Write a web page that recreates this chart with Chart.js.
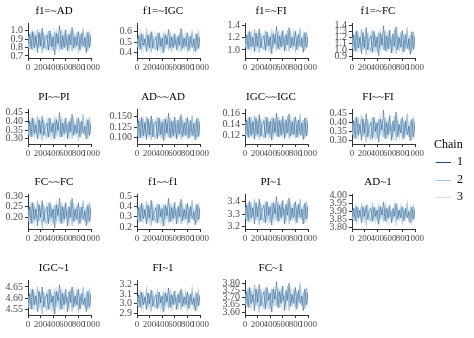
<!DOCTYPE html>
<html>
<head>
<meta charset="utf-8">
<script src="https://cdn.jsdelivr.net/npm/chart.js@4/dist/chart.umd.min.js"></script>
<style>
 body { margin: 0; background: #fff; }
 #wrap { position: relative; width: 474px; height: 338px; font-family: "Liberation Serif", "DejaVu Serif", serif; }
 canvas { position: absolute; }
 .legTitle { position: absolute; left: 434px; top: 137px; font-size: 12px; color: #000; }
 .legKey { position: absolute; left: 436px; width: 15px; height: 0; border-top: 1px solid; }
 .legLab { position: absolute; left: 457px; font-size: 12px; color: #000; }
</style>
</head>
<body>
<div id="wrap"></div>
<script>
// iteration numbers shown on every x axis (thinned draws)
const iterations = [0,25,50,75,100,125,150,175,200,225,250,275,300,325,350,375,400,425,450,475,500,
 525,550,575,600,625,650,675,700,725,750,775,800,825,850,875,900,925,950,975,1000];
const xTicks = ['0', '200', '400', '600', '800', '1000'];
const chainLabels = ['1', '2', '3'];

// ---- f1=~AD
const f1AD = [
 [0.83,0.96,0.78,0.99,0.80,0.94,0.74,0.98,0.82,1.03,0.79,0.92,0.95,0.77,1.00,0.81,0.93,0.71,0.97,0.85,1.06,0.78,0.94,0.80,1.01,0.76,0.96,0.83,1.04,0.79,0.93,0.82,0.99,0.77,0.97,0.81,0.92,0.74,0.98,0.80,0.95],
 [0.94,0.81,0.99,0.77,0.96,0.83,1.02,0.79,0.95,0.73,0.98,0.82,0.78,1.00,0.80,0.93,0.76,0.99,0.81,0.95,0.79,1.01,0.77,0.97,0.82,0.92,0.79,1.00,0.75,0.96,0.80,0.98,0.78,0.94,0.83,1.03,0.79,0.96,0.76,0.99,0.82],
 [0.79,0.95,0.83,0.98,0.76,0.92,0.81,1.00,0.78,0.96,0.84,0.77,0.99,0.80,0.94,0.75,0.97,0.82,1.02,0.79,0.91,0.81,0.98,0.78,0.95,0.85,0.77,0.97,0.80,1.00,0.82,0.94,0.73,0.96,0.79,0.99,0.83,0.92,0.80,0.97,0.78]];
const f1ADTicks = ['0.7', '0.8', '0.9', '1.0'];
const f1ADRange = [0.675, 1.09];

// ---- f1=~IGC
const f1IGC = [
 [0.46,0.56,0.43,0.58,0.47,0.53,0.41,0.57,0.45,0.60,0.44,0.52,0.55,0.42,0.59,0.46,0.54,0.40,0.57,0.48,0.62,0.44,0.55,0.45,0.58,0.43,0.56,0.47,0.63,0.44,0.54,0.46,0.59,0.42,0.56,0.45,0.53,0.41,0.58,0.44,0.55],
 [0.54,0.46,0.58,0.43,0.56,0.47,0.60,0.44,0.55,0.40,0.57,0.46,0.43,0.59,0.45,0.54,0.42,0.57,0.46,0.55,0.44,0.58,0.43,0.56,0.47,0.53,0.44,0.59,0.41,0.56,0.45,0.57,0.43,0.54,0.47,0.61,0.44,0.56,0.42,0.58,0.46],
 [0.45,0.55,0.47,0.57,0.42,0.53,0.46,0.59,0.44,0.56,0.48,0.43,0.58,0.45,0.54,0.41,0.57,0.46,0.60,0.44,0.52,0.46,0.57,0.43,0.55,0.48,0.42,0.56,0.45,0.59,0.46,0.54,0.40,0.56,0.44,0.58,0.47,0.53,0.45,0.57,0.43]];
const f1IGCTicks = ['0.4', '0.5', '0.6'];
const f1IGCRange = [0.35, 0.68];

// ---- f1=~FI
const f1FI = [
 [1.08,1.24,1.01,1.30,1.05,1.20,0.97,1.27,1.06,1.34,1.03,1.18,1.23,0.99,1.29,1.07,1.21,0.94,1.26,1.10,1.38,1.02,1.22,1.05,1.31,0.98,1.25,1.08,1.36,1.03,1.20,1.06,1.30,1.00,1.25,1.05,1.19,0.96,1.28,1.04,1.22],
 [1.21,1.05,1.29,1.00,1.24,1.08,1.33,1.03,1.22,0.95,1.27,1.06,1.01,1.31,1.04,1.20,0.99,1.28,1.06,1.23,1.03,1.30,1.00,1.26,1.07,1.19,1.03,1.32,0.97,1.25,1.05,1.28,1.01,1.21,1.08,1.35,1.03,1.24,0.99,1.29,1.06],
 [1.04,1.22,1.07,1.28,0.99,1.19,1.05,1.31,1.02,1.25,1.09,1.00,1.29,1.04,1.21,0.97,1.27,1.06,1.33,1.03,1.18,1.05,1.27,1.01,1.23,1.09,1.00,1.26,1.04,1.31,1.06,1.20,0.95,1.24,1.03,1.30,1.07,1.19,1.04,1.27,1.02]];
const f1FITicks = ['1.0', '1.2', '1.4'];
const f1FIRange = [0.87, 1.43];

// ---- f1=~FC
const f1FC = [
 [1.05,1.24,0.98,1.31,1.03,1.20,0.94,1.28,1.04,1.36,1.00,1.17,1.23,0.96,1.30,1.05,1.21,0.91,1.27,1.08,1.39,0.99,1.22,1.02,1.32,0.95,1.26,1.06,1.37,1.00,1.20,1.04,1.31,0.97,1.25,1.02,1.18,0.93,1.29,1.01,1.22],
 [1.21,1.03,1.29,0.97,1.24,1.06,1.34,1.00,1.22,0.92,1.28,1.04,0.98,1.32,1.02,1.20,0.96,1.29,1.04,1.23,1.00,1.31,0.97,1.26,1.05,1.18,1.00,1.33,0.94,1.25,1.03,1.29,0.98,1.21,1.06,1.36,1.00,1.24,0.96,1.30,1.04],
 [1.02,1.22,1.05,1.29,0.96,1.18,1.03,1.32,0.99,1.25,1.07,0.97,1.30,1.02,1.21,0.94,1.27,1.04,1.34,1.00,1.17,1.03,1.28,0.98,1.23,1.07,0.97,1.26,1.02,1.32,1.04,1.20,0.92,1.24,1.00,1.31,1.05,1.18,1.02,1.27,0.99]];
const f1FCTicks = ['0.9', '1.0', '1.1', '1.2', '1.3', '1.4'];
const f1FCRange = [0.87, 1.43];

// ---- PI~~PI
const piPI = [
 [0.33,0.40,0.31,0.42,0.33,0.38,0.30,0.41,0.33,0.43,0.32,0.37,0.39,0.31,0.42,0.34,0.39,0.30,0.41,0.35,0.45,0.31,0.39,0.33,0.42,0.30,0.40,0.34,0.44,0.32,0.38,0.33,0.42,0.31,0.40,0.33,0.37,0.30,0.41,0.32,0.39],
 [0.39,0.33,0.42,0.31,0.40,0.34,0.43,0.32,0.39,0.29,0.41,0.33,0.31,0.42,0.32,0.38,0.31,0.41,0.33,0.39,0.32,0.42,0.31,0.40,0.34,0.38,0.32,0.42,0.30,0.40,0.33,0.41,0.31,0.39,0.34,0.44,0.32,0.40,0.30,0.42,0.33],
 [0.32,0.39,0.34,0.41,0.31,0.38,0.33,0.42,0.32,0.40,0.35,0.31,0.42,0.33,0.39,0.30,0.41,0.33,0.43,0.32,0.37,0.33,0.41,0.31,0.39,0.35,0.31,0.40,0.33,0.42,0.34,0.38,0.30,0.40,0.32,0.42,0.34,0.38,0.33,0.41,0.31]];
const piPITicks = ['0.30', '0.35', '0.40', '0.45'];
const piPIRange = [0.27, 0.47];

// ---- AD~~AD
const adAD = [
 [0.105,0.140,0.098,0.148,0.104,0.136,0.095,0.145,0.106,0.152,0.101,0.133,0.139,0.097,0.147,0.107,0.137,0.092,0.144,0.110,0.158,0.099,0.139,0.104,0.149,0.096,0.142,0.108,0.155,0.101,0.136,0.105,0.148,0.098,0.141,0.104,0.134,0.094,0.146,0.102,0.139],
 [0.137,0.104,0.146,0.099,0.140,0.108,0.151,0.101,0.138,0.093,0.144,0.106,0.099,0.149,0.103,0.136,0.097,0.145,0.105,0.139,0.101,0.148,0.098,0.142,0.107,0.134,0.101,0.150,0.095,0.141,0.104,0.146,0.099,0.137,0.108,0.153,0.101,0.140,0.097,0.147,0.105],
 [0.103,0.138,0.107,0.145,0.097,0.134,0.104,0.149,0.100,0.141,0.109,0.098,0.147,0.103,0.137,0.095,0.144,0.106,0.151,0.101,0.133,0.105,0.145,0.099,0.139,0.109,0.098,0.142,0.103,0.149,0.106,0.136,0.093,0.140,0.101,0.148,0.107,0.134,0.103,0.144,0.100]];
const adADTicks = ['0.100', '0.125', '0.150'];
const adADRange = [0.084, 0.168];

// ---- IGC~~IGC
const igcIGC = [
 [0.121,0.148,0.116,0.154,0.120,0.145,0.113,0.152,0.122,0.158,0.118,0.142,0.147,0.115,0.153,0.123,0.146,0.111,0.151,0.125,0.161,0.117,0.147,0.120,0.155,0.114,0.149,0.124,0.159,0.118,0.145,0.121,0.154,0.116,0.148,0.120,0.143,0.112,0.152,0.119,0.147],
 [0.146,0.120,0.153,0.116,0.148,0.123,0.157,0.118,0.146,0.112,0.151,0.122,0.116,0.155,0.120,0.145,0.115,0.152,0.121,0.147,0.118,0.154,0.116,0.149,0.123,0.143,0.118,0.156,0.113,0.148,0.120,0.152,0.116,0.146,0.123,0.159,0.118,0.148,0.115,0.153,0.121],
 [0.119,0.147,0.122,0.152,0.115,0.143,0.120,0.155,0.117,0.149,0.124,0.116,0.153,0.119,0.146,0.113,0.151,0.122,0.157,0.118,0.142,0.121,0.152,0.117,0.147,0.124,0.116,0.150,0.119,0.155,0.122,0.145,0.112,0.148,0.118,0.154,0.122,0.143,0.119,0.151,0.117]];
const igcIGCTicks = ['0.12', '0.14', '0.16'];
const igcIGCRange = [0.104, 0.168];

// ---- FI~~FI
const fiFI = [
 [0.34,0.41,0.31,0.43,0.33,0.39,0.30,0.42,0.34,0.45,0.32,0.38,0.40,0.31,0.43,0.35,0.40,0.29,0.42,0.36,0.47,0.31,0.40,0.33,0.44,0.30,0.41,0.35,0.46,0.32,0.39,0.34,0.43,0.31,0.41,0.33,0.38,0.30,0.42,0.32,0.40],
 [0.40,0.33,0.43,0.31,0.41,0.35,0.44,0.32,0.40,0.29,0.42,0.34,0.31,0.43,0.33,0.39,0.31,0.42,0.34,0.40,0.32,0.43,0.31,0.41,0.35,0.38,0.32,0.44,0.30,0.41,0.33,0.42,0.31,0.40,0.35,0.45,0.32,0.41,0.30,0.43,0.34],
 [0.33,0.40,0.35,0.42,0.31,0.39,0.34,0.44,0.32,0.41,0.36,0.31,0.43,0.33,0.40,0.30,0.42,0.34,0.45,0.32,0.38,0.34,0.42,0.31,0.40,0.36,0.31,0.41,0.33,0.44,0.35,0.39,0.30,0.41,0.32,0.43,0.35,0.38,0.33,0.42,0.31]];
const fiFITicks = ['0.30', '0.35', '0.40', '0.45'];
const fiFIRange = [0.28, 0.475];

// ---- FC~~FC
const fcFC = [
 [0.19,0.25,0.17,0.27,0.19,0.24,0.16,0.26,0.20,0.28,0.18,0.23,0.25,0.17,0.27,0.20,0.24,0.15,0.26,0.21,0.29,0.17,0.25,0.19,0.27,0.16,0.25,0.20,0.29,0.18,0.24,0.19,0.27,0.17,0.25,0.19,0.23,0.16,0.26,0.18,0.25],
 [0.24,0.19,0.27,0.17,0.25,0.20,0.28,0.18,0.24,0.15,0.26,0.19,0.17,0.27,0.19,0.24,0.17,0.26,0.19,0.25,0.18,0.27,0.17,0.25,0.20,0.23,0.18,0.28,0.16,0.25,0.19,0.26,0.17,0.24,0.20,0.28,0.18,0.25,0.17,0.27,0.19],
 [0.18,0.24,0.20,0.26,0.17,0.23,0.19,0.27,0.18,0.25,0.21,0.17,0.27,0.19,0.24,0.16,0.26,0.19,0.28,0.18,0.23,0.19,0.26,0.17,0.25,0.21,0.17,0.25,0.19,0.27,0.20,0.24,0.16,0.25,0.18,0.27,0.20,0.23,0.19,0.26,0.17]];
const fcFCTicks = ['0.20', '0.25', '0.30'];
const fcFCRange = [0.145, 0.31];

// ---- f1~~f1
const f1f1 = [
 [0.28,0.39,0.25,0.43,0.28,0.37,0.23,0.41,0.29,0.46,0.26,0.35,0.39,0.24,0.42,0.30,0.38,0.21,0.41,0.31,0.48,0.25,0.39,0.28,0.44,0.23,0.40,0.30,0.47,0.26,0.37,0.28,0.43,0.24,0.40,0.28,0.35,0.22,0.42,0.27,0.39],
 [0.38,0.28,0.42,0.25,0.39,0.30,0.45,0.26,0.38,0.21,0.41,0.29,0.25,0.43,0.27,0.37,0.24,0.42,0.28,0.39,0.26,0.43,0.25,0.40,0.30,0.36,0.26,0.44,0.23,0.39,0.28,0.42,0.25,0.38,0.30,0.46,0.26,0.39,0.24,0.43,0.28],
 [0.27,0.38,0.30,0.41,0.24,0.36,0.28,0.43,0.26,0.39,0.31,0.25,0.42,0.27,0.38,0.22,0.41,0.29,0.44,0.26,0.35,0.28,0.41,0.25,0.38,0.31,0.25,0.40,0.27,0.43,0.29,0.37,0.22,0.39,0.26,0.42,0.30,0.36,0.27,0.41,0.25]];
const f1f1Ticks = ['0.2', '0.3', '0.4', '0.5'];
const f1f1Range = [0.18, 0.52];

// ---- PI~1
const pi1 = [
 [3.27,3.37,3.24,3.40,3.27,3.35,3.22,3.39,3.28,3.42,3.25,3.34,3.37,3.23,3.40,3.29,3.36,3.21,3.39,3.30,3.44,3.24,3.37,3.27,3.41,3.22,3.38,3.29,3.43,3.25,3.35,3.27,3.40,3.23,3.38,3.27,3.34,3.22,3.39,3.26,3.37],
 [3.36,3.27,3.40,3.24,3.37,3.29,3.42,3.25,3.36,3.21,3.39,3.28,3.24,3.40,3.26,3.35,3.23,3.39,3.27,3.37,3.25,3.40,3.24,3.38,3.29,3.34,3.25,3.41,3.22,3.37,3.27,3.39,3.24,3.36,3.29,3.42,3.25,3.37,3.23,3.40,3.27],
 [3.26,3.36,3.28,3.39,3.23,3.34,3.27,3.40,3.25,3.37,3.30,3.24,3.39,3.26,3.36,3.22,3.38,3.28,3.41,3.25,3.34,3.27,3.39,3.24,3.36,3.30,3.24,3.38,3.26,3.40,3.28,3.35,3.22,3.37,3.25,3.40,3.28,3.34,3.26,3.38,3.24]];
const pi1Ticks = ['3.2', '3.3', '3.4'];
const pi1Range = [3.18, 3.46];

// ---- AD~1
const ad1 = [
 [3.86,3.92,3.84,3.93,3.86,3.91,3.83,3.93,3.87,3.94,3.85,3.90,3.92,3.84,3.93,3.87,3.91,3.82,3.93,3.88,3.96,3.84,3.92,3.86,3.94,3.83,3.92,3.87,3.95,3.85,3.91,3.86,3.93,3.84,3.92,3.86,3.90,3.83,3.93,3.85,3.92],
 [3.91,3.86,3.93,3.84,3.92,3.87,3.94,3.85,3.91,3.82,3.93,3.86,3.84,3.94,3.85,3.91,3.84,3.93,3.86,3.92,3.85,3.94,3.84,3.92,3.87,3.90,3.85,3.94,3.83,3.92,3.86,3.93,3.84,3.91,3.87,3.95,3.85,3.92,3.84,3.93,3.86],
 [3.85,3.91,3.87,3.93,3.84,3.90,3.86,3.94,3.85,3.92,3.88,3.84,3.93,3.86,3.91,3.83,3.93,3.86,3.94,3.85,3.90,3.86,3.93,3.84,3.91,3.88,3.84,3.92,3.86,3.94,3.87,3.91,3.83,3.92,3.85,3.93,3.87,3.90,3.86,3.93,3.84]];
const ad1Ticks = ['3.80', '3.85', '3.90', '3.95', '4.00'];
const ad1Range = [3.79, 4.01];

// ---- IGC~1
const igc1 = [
 [4.57,4.62,4.55,4.64,4.57,4.61,4.54,4.63,4.58,4.65,4.56,4.60,4.62,4.55,4.64,4.58,4.61,4.53,4.63,4.59,4.66,4.55,4.62,4.57,4.64,4.54,4.63,4.58,4.65,4.56,4.61,4.57,4.64,4.55,4.62,4.57,4.60,4.54,4.63,4.56,4.62],
 [4.61,4.57,4.64,4.55,4.62,4.58,4.65,4.56,4.61,4.53,4.63,4.57,4.55,4.64,4.56,4.61,4.55,4.63,4.57,4.62,4.56,4.64,4.55,4.62,4.58,4.60,4.56,4.64,4.54,4.62,4.57,4.63,4.55,4.61,4.58,4.65,4.56,4.62,4.55,4.64,4.57],
 [4.56,4.61,4.58,4.63,4.55,4.60,4.57,4.64,4.56,4.62,4.59,4.55,4.63,4.57,4.61,4.54,4.63,4.57,4.65,4.56,4.60,4.57,4.63,4.55,4.61,4.59,4.55,4.62,4.57,4.64,4.58,4.61,4.54,4.62,4.56,4.63,4.58,4.60,4.57,4.63,4.55]];
const igc1Ticks = ['4.55', '4.60', '4.65'];
const igc1Range = [4.525, 4.68];

// ---- FI~1
const fi1 = [
 [2.99,3.09,2.96,3.12,2.99,3.07,2.94,3.11,3.00,3.14,2.97,3.06,3.09,2.95,3.12,3.01,3.08,2.92,3.11,3.02,3.16,2.96,3.09,2.99,3.13,2.94,3.10,3.01,3.15,2.97,3.07,2.99,3.12,2.95,3.10,2.99,3.06,2.93,3.11,2.98,3.09],
 [3.08,2.99,3.12,2.96,3.09,3.01,3.14,2.97,3.08,2.92,3.11,3.00,2.96,3.12,2.98,3.07,2.95,3.11,2.99,3.09,2.97,3.12,2.96,3.10,3.01,3.06,2.97,3.13,2.94,3.09,2.99,3.11,2.96,3.08,3.01,3.15,2.97,3.09,2.95,3.12,2.99],
 [2.98,3.08,3.00,3.11,2.95,3.06,2.99,3.12,2.97,3.09,3.02,2.96,3.11,2.98,3.08,2.93,3.10,3.00,3.13,2.97,3.06,2.99,3.11,2.96,3.08,3.02,2.96,3.10,2.98,3.12,3.00,3.07,2.93,3.09,2.97,3.11,3.00,3.06,2.98,3.10,2.96]];
const fi1Ticks = ['2.9', '3.0', '3.1', '3.2'];
const fi1Range = [2.885, 3.24];

// ---- FC~1
const fc1 = [
 [3.66,3.74,3.63,3.77,3.66,3.72,3.61,3.76,3.67,3.79,3.64,3.71,3.74,3.62,3.77,3.68,3.73,3.60,3.76,3.69,3.81,3.63,3.74,3.66,3.78,3.61,3.75,3.68,3.80,3.64,3.72,3.66,3.77,3.62,3.75,3.66,3.71,3.61,3.76,3.65,3.74],
 [3.73,3.66,3.77,3.63,3.74,3.68,3.79,3.64,3.73,3.60,3.76,3.67,3.63,3.77,3.65,3.72,3.62,3.76,3.66,3.74,3.64,3.77,3.63,3.75,3.68,3.71,3.64,3.78,3.61,3.74,3.66,3.76,3.63,3.73,3.68,3.80,3.64,3.74,3.62,3.77,3.66],
 [3.65,3.73,3.67,3.76,3.62,3.71,3.66,3.77,3.64,3.74,3.69,3.63,3.76,3.65,3.73,3.61,3.75,3.67,3.78,3.64,3.71,3.66,3.76,3.63,3.73,3.69,3.63,3.75,3.65,3.77,3.67,3.72,3.61,3.74,3.64,3.76,3.67,3.71,3.65,3.75,3.63]];
const fc1Ticks = ['3.60', '3.65', '3.70', '3.75', '3.80'];
const fc1Range = [3.58, 3.82];

const panels = [
 { title: 'f1=~AD', chains: f1AD, ticks: f1ADTicks, range: f1ADRange },
 { title: 'f1=~IGC', chains: f1IGC, ticks: f1IGCTicks, range: f1IGCRange },
 { title: 'f1=~FI', chains: f1FI, ticks: f1FITicks, range: f1FIRange },
 { title: 'f1=~FC', chains: f1FC, ticks: f1FCTicks, range: f1FCRange },
 { title: 'PI~~PI', chains: piPI, ticks: piPITicks, range: piPIRange },
 { title: 'AD~~AD', chains: adAD, ticks: adADTicks, range: adADRange },
 { title: 'IGC~~IGC', chains: igcIGC, ticks: igcIGCTicks, range: igcIGCRange },
 { title: 'FI~~FI', chains: fiFI, ticks: fiFITicks, range: fiFIRange },
 { title: 'FC~~FC', chains: fcFC, ticks: fcFCTicks, range: fcFCRange },
 { title: 'f1~~f1', chains: f1f1, ticks: f1f1Ticks, range: f1f1Range },
 { title: 'PI~1', chains: pi1, ticks: pi1Ticks, range: pi1Range },
 { title: 'AD~1', chains: ad1, ticks: ad1Ticks, range: ad1Range },
 { title: 'IGC~1', chains: igc1, ticks: igc1Ticks, range: igc1Range },
 { title: 'FI~1', chains: fi1, ticks: fi1Ticks, range: fi1Range },
 { title: 'FC~1', chains: fc1, ticks: fc1Ticks, range: fc1Range }
];

const chainColors = ['#1f4b78', '#9dc4e1', '#d4e5f2'];
const chainWidths = [0.5, 1.1, 1.1];
const chainOrder = [0, 1, 2];   // dark chain painted last, thin
const FONT = '"Liberation Serif", "DejaVu Serif", serif';
const colLeft = [0, 109, 217, 324];
const rowTop = [0, 86, 171, 257];
const CELL_W = 108, CELL_H = 85;

const wrap = document.getElementById('wrap');

function renderPanel(p, idx) {
 const cv = document.createElement('canvas');
 cv.width = CELL_W;
 cv.height = CELL_H;
 cv.style.left = colLeft[idx % 4] + 'px';
 cv.style.top = rowTop[Math.floor(idx / 4)] + 'px';
 wrap.appendChild(cv);

 const tickVals = p.ticks.map(Number);
 const datasets = p.chains.map((vals, c) => ({
  label: chainLabels[c],
  data: vals.map((v, i) => ({ x: iterations[i], y: v })),
  borderColor: chainColors[c],
  borderWidth: chainWidths[c],
  order: chainOrder[c],
  pointRadius: 0,
  tension: 0,
  fill: false
 }));

 new Chart(cv.getContext('2d'), {
  type: 'line',
  data: { datasets: datasets },
  options: {
   responsive: false,
   animation: false,
   devicePixelRatio: 1,
   plugins: {
    legend: { display: false },
    tooltip: { enabled: false },
    title: {
     display: true, text: p.title, color: '#000',
     font: { family: FONT, size: 11, weight: 'normal' },
     padding: { top: 5, bottom: 5 }
    }
   },
   scales: {
    x: {
     type: 'linear', min: 0, max: 1000,
     afterBuildTicks: s => { s.ticks = xTicks.map(v => ({ value: Number(v) })); },
     ticks: { autoSkip: false, maxRotation: 0, minRotation: 0, padding: 1, color: '#4d4d4d',
      font: { family: FONT, size: 9 },
      callback: (v, i) => xTicks[i] },
     grid: { drawOnChartArea: false, tickLength: 3, color: '#333' },
     border: { color: '#333', width: 1 },
     afterFit: s => { s.height = 27; }
    },
    y: {
     type: 'linear', min: p.range[0], max: p.range[1],
     afterBuildTicks: s => { s.ticks = tickVals.map(v => ({ value: v })); },
     ticks: { autoSkip: false, padding: 2, color: '#4d4d4d',
      font: { family: FONT, size: 10 },
      callback: (v, i) => p.ticks[i] },
     grid: { drawOnChartArea: false, tickLength: 3, color: '#333' },
     border: { color: '#333', width: 1 },
     afterFit: s => { s.width = 28; }
    },
    // empty right axis: keeps room for the last x label without shifting the title
    side: {
     type: 'linear', position: 'right', min: 0, max: 1,
     ticks: { display: false },
     grid: { display: false },
     border: { display: false },
     afterFit: s => { s.width = 17; }
    }
   }
  }
 });
}

panels.forEach(renderPanel);

// legend
const lt = document.createElement('div');
lt.className = 'legTitle';
lt.textContent = 'Chain';
wrap.appendChild(lt);
const keyTops = [162, 180, 197];
chainLabels.forEach((lab, c) => {
 const k = document.createElement('div');
 k.className = 'legKey';
 k.style.top = keyTops[c] + 'px';
 k.style.borderTopColor = chainColors[c];
 wrap.appendChild(k);
 const t = document.createElement('div');
 t.className = 'legLab';
 t.style.top = (keyTops[c] - 8) + 'px';
 t.textContent = lab;
 wrap.appendChild(t);
});
</script>
</body>
</html>
